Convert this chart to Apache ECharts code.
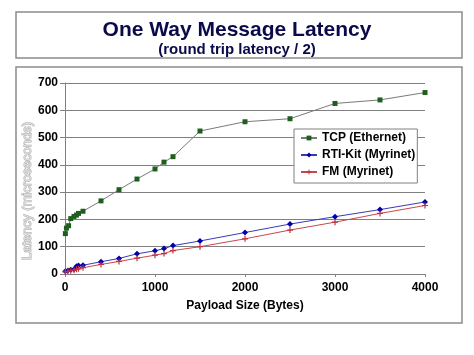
<!DOCTYPE html>
<html>
<head>
<meta charset="utf-8">
<script src="https://cdn.jsdelivr.net/npm/echarts@6/dist/echarts.min.js"></script>
<style>
  html, body { margin: 0; padding: 0; background: #fff; }
  #chart { width: 474px; height: 355px; }
</style>
</head>
<body>
<div id="chart"></div>
<script>
// Dados
const tcpX = [4, 16, 40, 64, 100, 128, 150, 200, 400, 600, 800, 1000, 1100, 1200, 1500, 2000, 2500, 3000, 3500, 4000];
const tcpLatency = [148, 168, 177, 203, 211, 216, 222, 230, 268, 309, 348, 385, 410, 430, 524, 558, 569, 625, 638, 665];
const myrinetX = [4, 32, 64, 100, 128, 150, 200, 400, 600, 800, 1000, 1100, 1200, 1500, 2000, 2500, 3000, 3500, 4000];
const rtiLatency = [10, 13, 16, 17, 28, 31, 32, 45, 57, 74, 85, 93, 104, 121, 152, 183, 210, 236, 264];
const fmLatency = [8, 10, 12, 14, 17, 19, 23, 35, 46, 58, 69, 75, 86, 100, 129, 161, 190, 222, 251];
const seriesNames = ['TCP (Ethernet)', 'RTI-Kit (Myrinet)', 'FM (Myrinet)'];

function pares(xs, ys) {
    return xs.map(function (x, i) { return [x, ys[i]]; });
}

var chart = echarts.init(document.getElementById('chart'), null, { renderer: 'canvas' });

var fonte = 'Liberation Sans, Arial, sans-serif';

var option = {
    animation: false,
    backgroundColor: '#fff',
    title: [
        {
            text: 'One Way Message Latency',
            left: 'center',
            top: 15,
            textStyle: { fontFamily: fonte, fontSize: 21, fontWeight: 'bold', fontStyle: 'normal', color: '#0a0a4a' }
        },
        {
            text: '(round trip latency / 2)',
            left: 'center',
            top: 37,
            textStyle: { fontFamily: fonte, fontSize: 15, fontWeight: 'bold', fontStyle: 'normal', color: '#0a0a4a' }
        }
    ],
    graphic: [
        {
            type: 'rect', z: -1,
            shape: { x: 16, y: 12, width: 446, height: 46 },
            style: { fill: 'transparent', stroke: '#8c8c8c', lineWidth: 1.5 }
        },
        {
            type: 'rect', z: -1,
            shape: { x: 16, y: 67, width: 446, height: 256 },
            style: { fill: 'transparent', stroke: '#8c8c8c', lineWidth: 1.5 }
        },
        {
            // título do eixo Y, com aparência "em relevo" como no original
            type: 'text',
            x: 27,
            y: 191,
            rotation: Math.PI / 2,
            style: {
                text: 'Latency (microseconds)',
                fontFamily: fonte,
                fontSize: 13,
                fill: '#e0e0e0',
                stroke: '#a8a8a8',
                lineWidth: 1,
                align: 'center',
                verticalAlign: 'middle'
            }
        }
    ],
    legend: {
        orient: 'vertical',
        left: 294,
        top: 129,
        padding: [3, 2, 5, 6],
        itemGap: 5,
        itemWidth: 16,
        itemHeight: 6,
        backgroundColor: '#fff',
        borderColor: '#808080',
        borderWidth: 1,
        borderRadius: 0,
        textStyle: { fontFamily: fonte, fontSize: 12, fontWeight: 'bold', color: '#000' },
        data: seriesNames
    },
    grid: {
        left: 65,
        right: 49,
        top: 83,
        bottom: 81
    },
    xAxis: {
        type: 'value',
        min: 0,
        max: 4000,
        interval: 1000,
        name: 'Payload Size (Bytes)',
        nameLocation: 'middle',
        nameGap: 26,
        nameTextStyle: { fontFamily: fonte, fontSize: 12, fontWeight: 'bold', color: '#000' },
        axisLine: { lineStyle: { color: '#808080', width: 1 } },
        axisTick: { show: true, length: 3, lineStyle: { color: '#808080' } },
        axisLabel: {
            margin: 8, fontFamily: fonte, fontSize: 12, fontWeight: 'bold', color: '#000',
            formatter: function (v) { return String(v); }
        },
        splitLine: { show: false }
    },
    yAxis: {
        type: 'value',
        min: 0,
        max: 700,
        interval: 100,
        axisLine: { show: true, lineStyle: { color: '#808080', width: 1 } },
        axisTick: { show: true, length: 5, lineStyle: { color: '#808080' } },
        axisLabel: { margin: 7, fontFamily: fonte, fontSize: 12, fontWeight: 'bold', color: '#000' },
        splitLine: { show: true, lineStyle: { color: '#808080', width: 1.2 } }
    },
    series: [
        {
            name: seriesNames[0],
            type: 'line',
            data: pares(tcpX, tcpLatency),
            symbol: 'rect',
            symbolSize: 5,
            itemStyle: { color: '#1e5e1e' },
            lineStyle: { color: '#7a7a7a', width: 1 }
        },
        {
            name: seriesNames[1],
            type: 'line',
            data: pares(myrinetX, rtiLatency),
            symbol: 'diamond',
            symbolSize: 6,
            itemStyle: { color: '#0000b0' },
            lineStyle: { color: '#3a3ab8', width: 1 }
        },
        {
            name: seriesNames[2],
            type: 'line',
            data: pares(myrinetX, fmLatency),
            symbol: 'path://M4,0H6V4H10V6H6V10H4V6H0V4H4Z',
            symbolSize: 6,
            itemStyle: { color: '#c03040' },
            lineStyle: { color: '#c84848', width: 1 }
        }
    ]
};

chart.setOption(option);
</script>
</body>
</html>
